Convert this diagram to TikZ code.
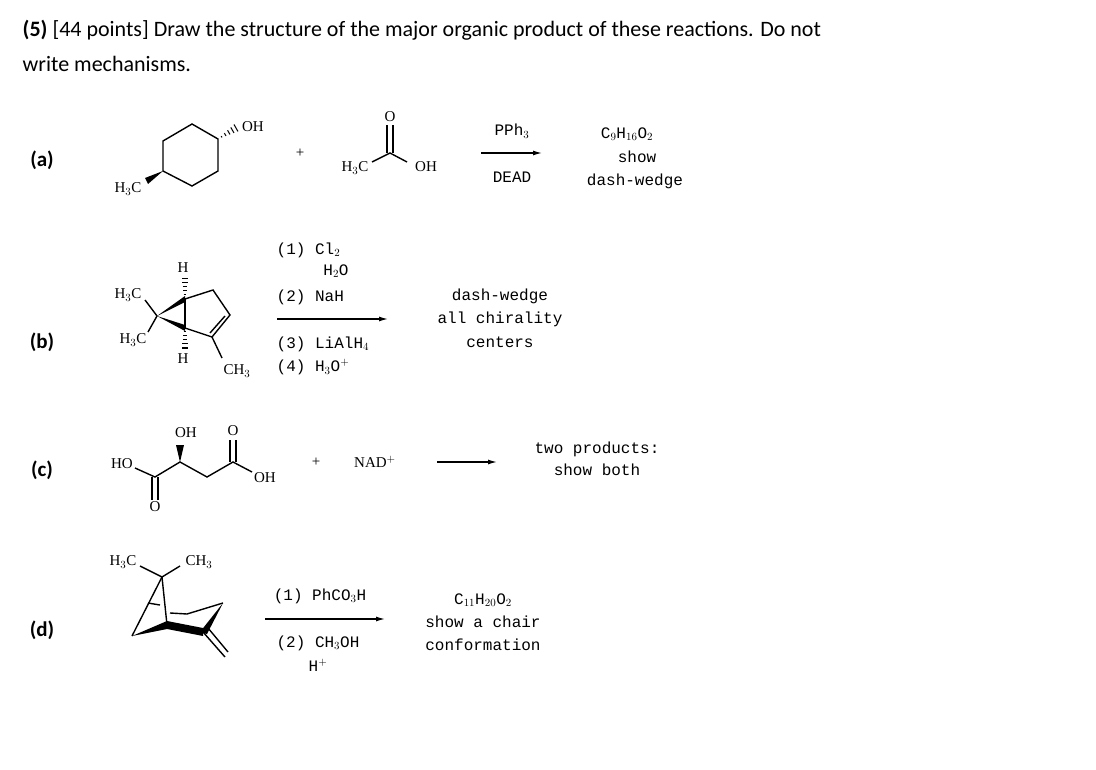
\documentclass[tikz,border=0pt]{standalone}
\usepackage{fontspec}
\setmainfont{Liberation Serif}
\newfontfamily\ttl{Carlito}
\newfontfamily\mono{Liberation Mono}
\usetikzlibrary{arrows.meta,calc}
\begin{document}
\begin{tikzpicture}[x=1pt,y=-1pt,line width=1.4pt,
  lab/.style={font=\fontsize{15}{15}\selectfont,inner sep=0pt},
  mt/.style={font=\mono\fontsize{16}{16}\selectfont,inner sep=0pt},
  pl/.style={font=\ttl\bfseries\fontsize{21}{21}\selectfont,inner sep=0pt},
  rx/.style={-{Latex[length=9pt,width=5pt]},line width=1.2pt}]
\useasboundingbox (0,0) rectangle (1096,770);
% title
\node[anchor=west,inner sep=0pt,font=\ttl\fontsize{22}{22}\selectfont] (t1) at (22,30) {\textbf{(5)} [44 points] Draw the structure of the major organic product of these reactions. Do not};
\node[anchor=west,inner sep=0pt,font=\ttl\fontsize{22}{22}\selectfont] (t2) at (22,64) {write mechanisms.};
\node[pl] (la) at (42,160) {(a)};
\node[pl] (lb) at (42,342) {(b)};
\node[pl] (lc) at (42,470) {(c)};
\node[pl] (ld) at (42,630) {(d)};
% (a) cyclohexane
\draw (163,141)--(192,124)--(218,139)--(218,171)--(192,186)--(163,171)--cycle;
\fill (163,171)--(145,178)--(148,184)--cycle;
\foreach \i in {0.2,0.4,0.6,0.8,1.0}{\draw[line width=1pt] ($(218,139)!\i!(236,128)+(-\i*2,-\i*3.5)$)--($(218,139)!\i!(236,128)+(\i*2,\i*3.5)$);}
\node[lab] (a1) at (128,189) {H$_3$C};
\node[lab] (a2) at (253,127) {OH};
\node[lab] (ap) at (300,153) {+};
\draw (372,162)--(390,153)--(407,162);
\draw (387,153)--(387,125) (393,153)--(393,125);
\node[lab] (a3) at (390,117) {O};
\node[lab] (a4) at (355,168) {H$_3$C};
\node[lab] (a5) at (426,167) {OH};
\coordinate (aa1) at (481,153); \coordinate (aa2) at (542,153);
\draw[rx] (aa1)--(aa2);
\node[mt] (a6) at (512,131) {PPh$_3$};
\node[mt] (a7) at (512,177) {DEAD};
\node[mt] (a8) at (627,134) {C$_9$H$_{16}$O$_2$};
\node[mt] (a9) at (637,157) {show};
\node[mt] (a10) at (635,181) {dash-wedge};
% (b)
\draw (185,299)--(185,328);
\draw (185,299)--(213,290)--(230,315)--(212,337)--(185,328);
\draw (225,316)--(210,333);
\fill (157,316)--(185,296)--(185,302)--cycle;
\fill (157,316)--(185,325)--(185,331)--cycle;
\draw (157,316)--(145,300) (157,316)--(148,332);
\draw (212,337)--(222,358);
\foreach \y/\w in {295/1.4,291/1.8,287/2.2,283/2.6,279/3.0}{\draw[line width=1pt] ({185-\w},\y)--({185+\w},\y);}
\foreach \y/\w in {332/1.4,336/1.8,340/2.2,344/2.6,348/3.0}{\draw[line width=1pt] ({185-\w},\y)--({185+\w},\y);}
\node[lab] (b1) at (183,268) {H};
\node[lab] (b2) at (183,359) {H};
\node[lab] (b3) at (128,295) {H$_3$C};
\node[lab] (b4) at (133,340) {H$_3$C};
\node[lab] (b5) at (237,371) {CH$_3$};
\node[mt,anchor=west] (b6) at (276,250) {(1) Cl$_2$};
\node[mt] (b7) at (336,271) {H$_2$O};
\node[mt,anchor=west] (b8) at (276,297) {(2) NaH};
\coordinate (ba1) at (277,319); \coordinate (ba2) at (388,319);
\draw[rx] (ba1)--(ba2);
\node[mt,anchor=west] (b9) at (276,344) {(3) LiAlH$_4$};
\node[mt,anchor=west] (b10) at (276,367) {(4) H$_3$O$^+$};
\node[mt] (b11) at (500,296) {dash-wedge};
\node[mt] (b12) at (500,319) {all chirality};
\node[mt] (b13) at (500,342) {centers};
% (c)
\draw (135,468)--(155,477)--(180,462)--(207,477)--(233,462)--(252,472);
\draw (152,477)--(152,500) (158,477)--(158,500);
\draw (230,462)--(230,440) (236,462)--(236,440);
\fill (180,462)--(176,445)--(184,445)--cycle;
\node[lab] (c1) at (122,464) {HO};
\node[lab] (c2) at (155,507) {O};
\node[lab] (c3) at (186,433) {OH};
\node[lab] (c4) at (233,431) {O};
\node[lab] (c5) at (265,478) {OH};
\node[lab] (c6) at (316,462) {+};
\node[lab] (c7) at (375,462) {NAD$^+$};
\coordinate (ca1) at (437,462); \coordinate (ca2) at (497,462);
\draw[rx] (ca1)--(ca2);
\node[mt] (c8) at (597,449) {two products:};
\node[mt] (c9) at (597,470) {show both};
% (d)
\draw (140,566)--(162,577)--(180,566);
\draw (162,577)--(167,625);
\draw (162,577)--(132,636);
\draw (148,603)--(160,605);
\draw (170,613)--(187,614)--(223,603);
\fill (132,636)--(167,621)--(167,629)--cycle;
\fill (167,621)--(203,628)--(203,636)--(167,629)--cycle;
\fill (200,632)--(223,603)--(207,634)--cycle;
\draw (203,632)--(225,657) (208,628)--(228,652);
\node[lab] (d1) at (123,562) {H$_3$C};
\node[lab] (d2) at (199,562) {CH$_3$};
\node[mt] (d3) at (320,596) {(1) PhCO$_3$H};
\coordinate (da1) at (265,619); \coordinate (da2) at (385,619);
\draw[rx] (da1)--(da2);
\node[mt] (d4) at (318,643) {(2) CH$_3$OH};
\node[mt] (d5) at (318,665) {H$^+$};
\node[mt] (d6) at (483,600) {C$_{11}$H$_{20}$O$_2$};
\node[mt] (d7) at (483,622) {show a chair};
\node[mt] (d8) at (483,645) {conformation};
\end{tikzpicture}
\end{document}
